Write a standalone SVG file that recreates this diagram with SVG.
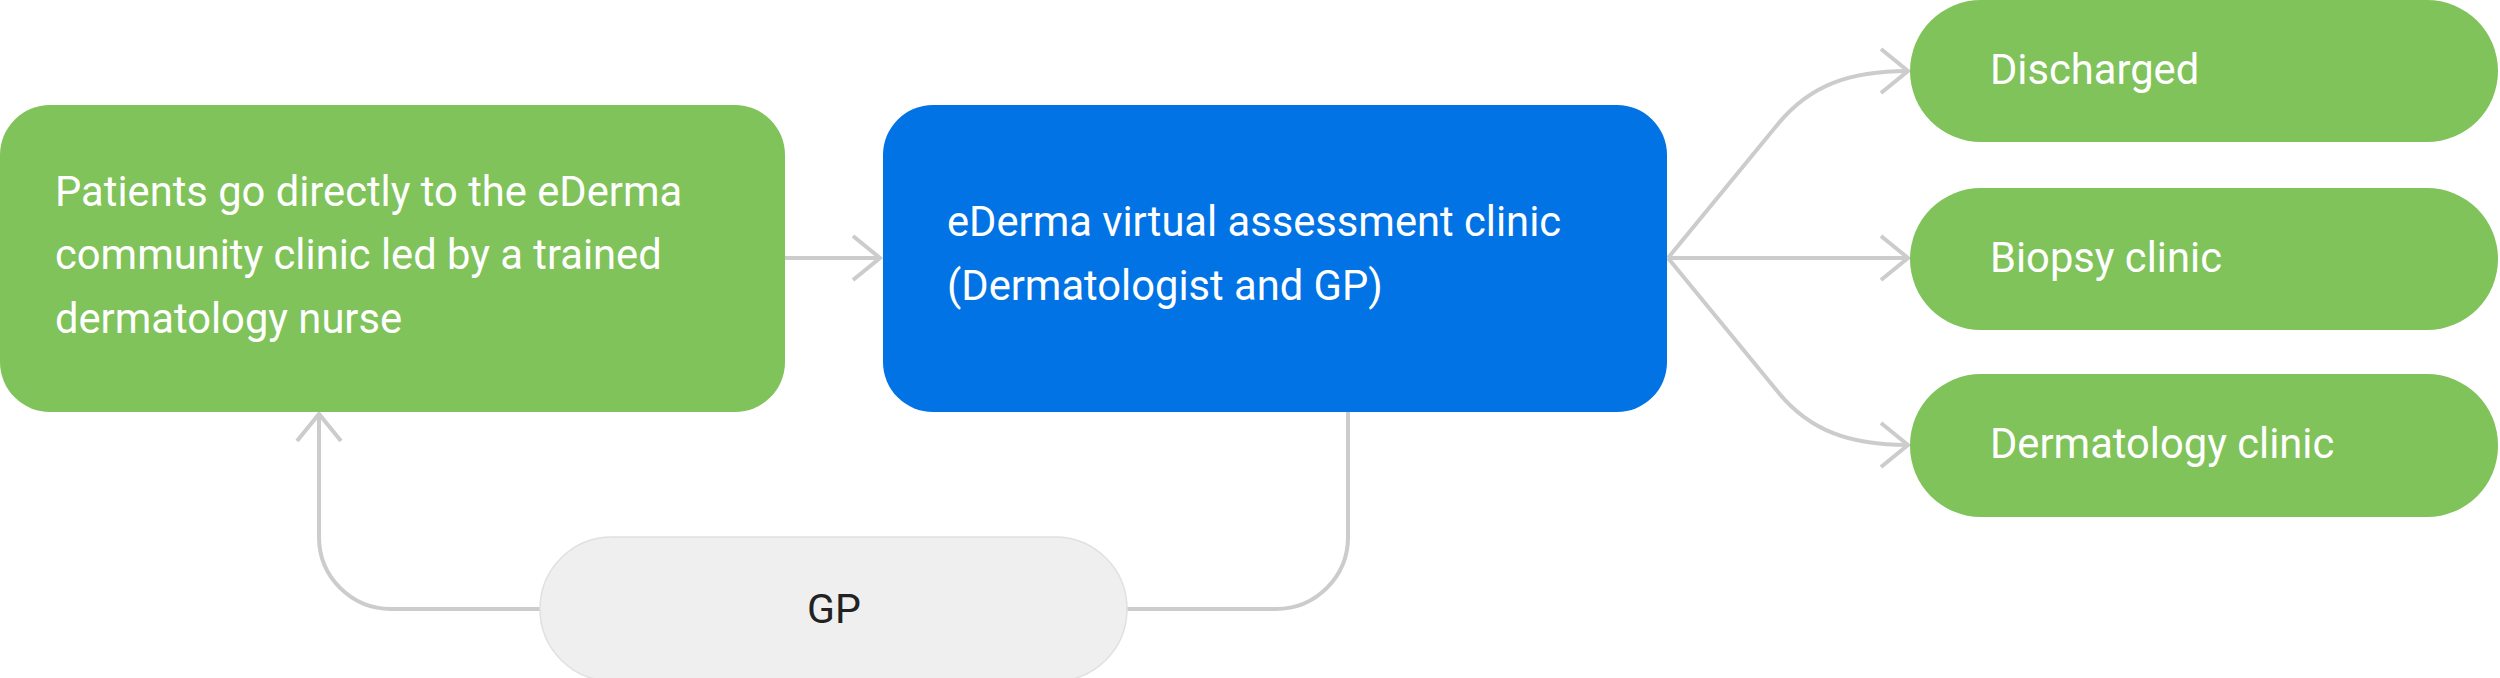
<svg xmlns="http://www.w3.org/2000/svg" width="2500" height="678" viewBox="0 0 2500 678">
<defs>
<marker id="chev" markerUnits="userSpaceOnUse" markerWidth="60" markerHeight="60" viewBox="-35 -30 40 60" refX="0" refY="0" orient="auto" overflow="visible">
<path d="M-27,-22 L0,0 L-27,22" fill="none" stroke="#cccccc" stroke-width="4"/>
</marker>
<style>
.green{fill:#7fc35a}
.blue{fill:#0173e4}
.gp{fill:#efefef;stroke:#e0e0e0;stroke-width:1.5}
.t{font-family:Roboto,"Liberation Sans",sans-serif;font-size:41.7px;fill:#ffffff}
.td{font-family:Roboto,"Liberation Sans",sans-serif;font-size:41px;fill:#222222}
.c{fill:none;stroke:#cccccc;stroke-width:4}
</style>
</defs>
<g id="connectors">
<path class="c" d="M785,258 L880,258" marker-end="url(#chev)"/>
<path class="c" d="M1668,258 L1778,124 C1810,85 1850,71 1908,71" marker-end="url(#chev)"/>
<path class="c" d="M1668,258 L1908,258" marker-end="url(#chev)"/>
<path class="c" d="M1668,258 L1778,392 C1810,431 1850,445 1908,445" marker-end="url(#chev)"/>
<path class="c" d="M1348,412 L1348,537 A72,72 0 0 1 1276,609 L1127,609"/>
<path class="c" d="M540,609 L391,609 A72,72 0 0 1 319,537 L319,414" marker-end="url(#chev)"/>
</g>
<g id="nurse-clinic">
<rect class="green" x="0" y="105" width="785" height="307" rx="50" ry="50"/>
<text class="t" x="55" y="206">Patients go directly to the eDerma</text>
<text class="t" x="55" y="269">community clinic led by a trained</text>
<text class="t" x="55" y="333">dermatology nurse</text>
</g>
<g id="virtual-clinic">
<rect class="blue" x="883" y="105" width="784" height="307" rx="50" ry="50"/>
<text class="t" x="947" y="236">eDerma virtual assessment clinic</text>
<text class="t" x="947" y="300">(Dermatologist and GP)</text>
</g>
<g id="discharged">
<rect class="green" x="1910" y="0" width="588" height="142" rx="71" ry="71"/>
<text class="t" x="1990" y="84">Discharged</text>
</g>
<g id="biopsy">
<rect class="green" x="1910" y="188" width="588" height="142" rx="71" ry="71"/>
<text class="t" x="1990" y="272">Biopsy clinic</text>
</g>
<g id="dermatology">
<rect class="green" x="1910" y="374" width="588" height="143" rx="71" ry="71"/>
<text class="t" x="1990" y="458">Dermatology clinic</text>
</g>
<g id="gp">
<rect class="gp" x="540" y="537" width="587" height="144" rx="72" ry="72"/>
<text class="td" x="834" y="623" text-anchor="middle">GP</text>
</g>
</svg>
